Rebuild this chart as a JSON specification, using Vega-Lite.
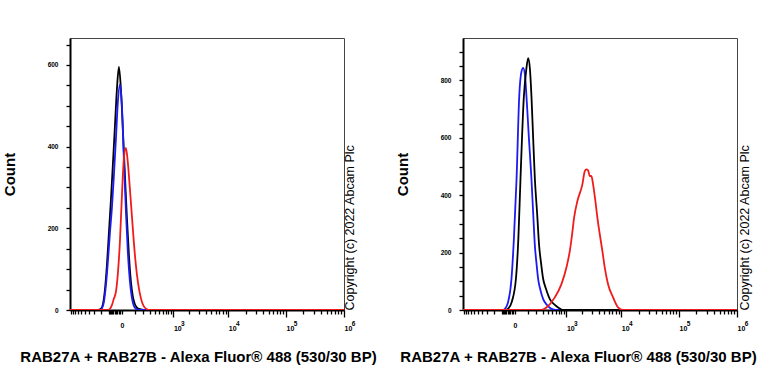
{
  "$schema": "https://vega.github.io/schema/vega-lite/v6.json",
  "background": "white",
  "padding": {"left": 1, "top": 37, "right": 0, "bottom": 0},
  "bounds": "flush",
  "spacing": 119,
  "config": {
    "font": "Liberation Sans",
    "view": {"stroke": "#444444", "strokeWidth": 1},
    "axis": {
      "grid": false,
      "domainColor": "#000000",
      "domainWidth": 2,
      "tickColor": "#000000",
      "tickWidth": 1.3,
      "labelColor": "#000000",
      "labelFont": "Liberation Sans",
      "labelFontWeight": "bold",
      "labelFlush": false,
      "labelOverlap": false,
      "titleColor": "#000000",
      "titleFont": "Liberation Sans",
      "titleFontWeight": "bold"
    }
  },
  "datasets": {
    "left": [
      {"s": "black", "x": -1025, "y": 0}, {"s": "black", "x": -238, "y": 0}, {"s": "black", "x": -194, "y": 3}, {"s": "black", "x": -168, "y": 15}, {"s": "black", "x": -144, "y": 50}, {"s": "black", "x": -122, "y": 110}, {"s": "black", "x": -101, "y": 190}, {"s": "black", "x": -82, "y": 270}, {"s": "black", "x": -64, "y": 360}, {"s": "black", "x": -48, "y": 450}, {"s": "black", "x": -33, "y": 540}, {"s": "black", "x": -19, "y": 595}, {"s": "black", "x": -6, "y": 540}, {"s": "black", "x": 6, "y": 440}, {"s": "black", "x": 19, "y": 330}, {"s": "black", "x": 33, "y": 225}, {"s": "black", "x": 48, "y": 135}, {"s": "black", "x": 64, "y": 70}, {"s": "black", "x": 82, "y": 32}, {"s": "black", "x": 101, "y": 14}, {"s": "black", "x": 122, "y": 6}, {"s": "black", "x": 156, "y": 2}, {"s": "black", "x": 208, "y": 0}, {"s": "black", "x": 1000000, "y": 0},
      {"s": "blue", "x": -1025, "y": 0}, {"s": "blue", "x": -208, "y": 0}, {"s": "blue", "x": -181, "y": 4}, {"s": "blue", "x": -156, "y": 20}, {"s": "blue", "x": -133, "y": 60}, {"s": "blue", "x": -111, "y": 120}, {"s": "blue", "x": -91, "y": 190}, {"s": "blue", "x": -73, "y": 250}, {"s": "blue", "x": -56, "y": 330}, {"s": "blue", "x": -40, "y": 420}, {"s": "blue", "x": -26, "y": 510}, {"s": "blue", "x": -12, "y": 552}, {"s": "blue", "x": 0, "y": 500}, {"s": "blue", "x": 12, "y": 370}, {"s": "blue", "x": 26, "y": 240}, {"s": "blue", "x": 40, "y": 140}, {"s": "blue", "x": 56, "y": 70}, {"s": "blue", "x": 73, "y": 30}, {"s": "blue", "x": 91, "y": 10}, {"s": "blue", "x": 111, "y": 3}, {"s": "blue", "x": 144, "y": 0}, {"s": "blue", "x": 1000000, "y": 0},
      {"s": "red", "x": -1025, "y": 0}, {"s": "red", "x": -111, "y": 0}, {"s": "red", "x": -91, "y": 3}, {"s": "red", "x": -73, "y": 12}, {"s": "red", "x": -56, "y": 28}, {"s": "red", "x": -40, "y": 45}, {"s": "red", "x": -26, "y": 90}, {"s": "red", "x": -12, "y": 170}, {"s": "red", "x": 0, "y": 280}, {"s": "red", "x": 12, "y": 370}, {"s": "red", "x": 26, "y": 397}, {"s": "red", "x": 40, "y": 360}, {"s": "red", "x": 56, "y": 296}, {"s": "red", "x": 73, "y": 230}, {"s": "red", "x": 91, "y": 165}, {"s": "red", "x": 111, "y": 110}, {"s": "red", "x": 133, "y": 68}, {"s": "red", "x": 156, "y": 40}, {"s": "red", "x": 181, "y": 20}, {"s": "red", "x": 208, "y": 9}, {"s": "red", "x": 253, "y": 2}, {"s": "red", "x": 304, "y": 0}, {"s": "red", "x": 1000000, "y": 0}
    ],
    "right": [
      {"s": "blue", "x": -1025, "y": 0}, {"s": "blue", "x": -91, "y": 0}, {"s": "blue", "x": -73, "y": 4}, {"s": "blue", "x": -48, "y": 25}, {"s": "blue", "x": -22, "y": 108}, {"s": "blue", "x": -6, "y": 250}, {"s": "blue", "x": 10, "y": 456}, {"s": "blue", "x": 28, "y": 745}, {"s": "blue", "x": 44, "y": 830}, {"s": "blue", "x": 58, "y": 844}, {"s": "blue", "x": 73, "y": 820}, {"s": "blue", "x": 87, "y": 745}, {"s": "blue", "x": 111, "y": 600}, {"s": "blue", "x": 139, "y": 456}, {"s": "blue", "x": 159, "y": 340}, {"s": "blue", "x": 181, "y": 224}, {"s": "blue", "x": 204, "y": 160}, {"s": "blue", "x": 227, "y": 108}, {"s": "blue", "x": 262, "y": 70}, {"s": "blue", "x": 310, "y": 38}, {"s": "blue", "x": 382, "y": 18}, {"s": "blue", "x": 449, "y": 8}, {"s": "blue", "x": 533, "y": 2}, {"s": "blue", "x": 641, "y": 0}, {"s": "blue", "x": 1000000, "y": 0},
      {"s": "black", "x": -1025, "y": 0}, {"s": "black", "x": -64, "y": 0}, {"s": "black", "x": -46, "y": 5}, {"s": "black", "x": -19, "y": 30}, {"s": "black", "x": 6, "y": 108}, {"s": "black", "x": 22, "y": 250}, {"s": "black", "x": 37, "y": 456}, {"s": "black", "x": 64, "y": 745}, {"s": "black", "x": 86, "y": 840}, {"s": "black", "x": 104, "y": 878}, {"s": "black", "x": 122, "y": 840}, {"s": "black", "x": 139, "y": 745}, {"s": "black", "x": 159, "y": 600}, {"s": "black", "x": 181, "y": 456}, {"s": "black", "x": 211, "y": 340}, {"s": "black", "x": 242, "y": 224}, {"s": "black", "x": 275, "y": 160}, {"s": "black", "x": 310, "y": 108}, {"s": "black", "x": 362, "y": 75}, {"s": "black", "x": 449, "y": 38}, {"s": "black", "x": 580, "y": 18}, {"s": "black", "x": 706, "y": 7}, {"s": "black", "x": 853, "y": 0}, {"s": "black", "x": 1000000, "y": 0},
      {"s": "red", "x": -1025, "y": 0}, {"s": "red", "x": 280, "y": 0}, {"s": "red", "x": 374, "y": 9}, {"s": "red", "x": 580, "y": 44}, {"s": "red", "x": 799, "y": 90}, {"s": "red", "x": 1006, "y": 148}, {"s": "red", "x": 1173, "y": 206}, {"s": "red", "x": 1299, "y": 264}, {"s": "red", "x": 1418, "y": 322}, {"s": "red", "x": 1637, "y": 380}, {"s": "red", "x": 2028, "y": 438}, {"s": "red", "x": 2245, "y": 484}, {"s": "red", "x": 2401, "y": 490}, {"s": "red", "x": 2580, "y": 487}, {"s": "red", "x": 2769, "y": 467}, {"s": "red", "x": 2959, "y": 467}, {"s": "red", "x": 3176, "y": 438}, {"s": "red", "x": 3493, "y": 380}, {"s": "red", "x": 3792, "y": 322}, {"s": "red", "x": 4187, "y": 264}, {"s": "red", "x": 4656, "y": 206}, {"s": "red", "x": 5136, "y": 148}, {"s": "red", "x": 5871, "y": 90}, {"s": "red", "x": 7190, "y": 44}, {"s": "red", "x": 8796, "y": 9}, {"s": "red", "x": 10750, "y": 0}, {"s": "red", "x": 1000000, "y": 0}
    ]
  },
  "hconcat": [
    {
      "width": 274,
      "height": 272,
      "data": {"name": "left"},
      "layer": [
        {
          "mark": {"type": "line", "strokeWidth": 1.8, "interpolate": "monotone", "clip": true},
          "encoding": {
            "x": {
              "field": "x", "type": "quantitative",
              "scale": {"type": "symlog", "constant": 150, "domain": [-1025, 1000000], "nice": false, "zero": false},
              "axis": {
                "values": [-1000, -900, -800, -700, -600, -500, -400, -300, -200, -100, -90, -80, -70, -60, -50, -40, -30, -20, -10, 0, 100, 200, 300, 400, 500, 600, 700, 800, 900, 1000, 2000, 3000, 4000, 5000, 6000, 7000, 8000, 9000, 10000, 20000, 30000, 40000, 50000, 60000, 70000, 80000, 90000, 100000, 200000, 300000, 400000, 500000, 600000, 700000, 800000, 900000, 1000000],
                "labelExpr": "datum.value == 0 ? '0' : indexof([1000, 10000, 100000, 1000000], datum.value) >= 0 ? '10' : ''",
                "tickSize": {"condition": {"test": "indexof([1000, 10000, 100000, 1000000], datum.value) >= 0", "value": 7}, "value": 4},
                "labelFontSize": 7,
                "labelPadding": 7,
                "labelOffset": {"condition": {"test": "datum.value > 0", "value": 4}, "value": 0},
                "title": "RAB27A + RAB27B - Alexa Fluor® 488 (530/30 BP)",
                "titleFontSize": 15,
                "titlePadding": 18,
                "titleX": 128
              }
            },
            "y": {
              "field": "y", "type": "quantitative",
              "scale": {"domain": [0, 666], "nice": false},
              "axis": {
                "values": [0, 50, 100, 150, 200, 250, 300, 350, 400, 450, 500, 550, 600, 650],
                "format": "d",
                "labelExpr": "datum.value % 200 == 0 ? datum.label : ''",
                "tickSize": 4,
                "labelFontSize": 6.5,
                "labelPadding": 8,
                "title": "Count",
                "titleFontSize": 15,
                "titlePadding": 30
              }
            },
            "color": {"field": "s", "type": "nominal", "scale": {"domain": ["blue", "black", "red"], "range": ["#1c1cf0", "#000000", "#f01c1c"]}, "legend": null}
          }
        },
        {
          "mark": {"type": "rule", "opacity": 0},
          "encoding": {
            "x": {
              "field": "x", "type": "quantitative",
              "scale": {"type": "symlog", "constant": 150, "domain": [-1025, 1000000], "nice": false, "zero": false},
              "axis": {"orient": "bottom", "values": [1000, 10000, 100000, 1000000], "labelExpr": "datum.value == 1000 ? '3' : datum.value == 10000 ? '4' : datum.value == 100000 ? '5' : '6'", "ticks": false, "domain": false, "labelFontSize": 6.5, "labelPadding": 10, "labelOffset": 9, "title": null}
            },
            "y": {
              "field": "y", "type": "quantitative",
              "scale": {"domain": [0, 666], "nice": false},
              "axis": {"orient": "right", "labels": false, "ticks": false, "domain": false, "title": "Copyright (c) 2022 Abcam Plc", "titleAngle": 270, "titleAnchor": "start", "titleAlign": "left", "titleFontWeight": "normal", "titleFontSize": 12.5, "titlePadding": 12}
            }
          }
        }
      ],
      "resolve": {"scale": {"y": "independent"}, "axis": {"x": "independent", "y": "independent"}}
    },
    {
      "width": 274,
      "height": 272,
      "data": {"name": "right"},
      "layer": [
        {
          "mark": {"type": "line", "strokeWidth": 1.8, "interpolate": "monotone", "clip": true},
          "encoding": {
            "x": {
              "field": "x", "type": "quantitative",
              "scale": {"type": "symlog", "constant": 150, "domain": [-1025, 1000000], "nice": false, "zero": false},
              "axis": {
                "values": [-1000, -900, -800, -700, -600, -500, -400, -300, -200, -100, -90, -80, -70, -60, -50, -40, -30, -20, -10, 0, 100, 200, 300, 400, 500, 600, 700, 800, 900, 1000, 2000, 3000, 4000, 5000, 6000, 7000, 8000, 9000, 10000, 20000, 30000, 40000, 50000, 60000, 70000, 80000, 90000, 100000, 200000, 300000, 400000, 500000, 600000, 700000, 800000, 900000, 1000000],
                "labelExpr": "datum.value == 0 ? '0' : indexof([1000, 10000, 100000, 1000000], datum.value) >= 0 ? '10' : ''",
                "tickSize": {"condition": {"test": "indexof([1000, 10000, 100000, 1000000], datum.value) >= 0", "value": 7}, "value": 4},
                "labelFontSize": 7,
                "labelPadding": 7,
                "labelOffset": {"condition": {"test": "datum.value > 0", "value": 4}, "value": 0},
                "title": "RAB27A + RAB27B - Alexa Fluor® 488 (530/30 BP)",
                "titleFontSize": 15,
                "titlePadding": 18,
                "titleX": 115
              }
            },
            "y": {
              "field": "y", "type": "quantitative",
              "scale": {"domain": [0, 948], "nice": false},
              "axis": {
                "values": [0, 50, 100, 150, 200, 250, 300, 350, 400, 450, 500, 550, 600, 650, 700, 750, 800, 850, 900],
                "format": "d",
                "labelExpr": "datum.value % 200 == 0 ? datum.label : ''",
                "tickSize": 4,
                "labelFontSize": 6.5,
                "labelPadding": 8,
                "title": "Count",
                "titleFontSize": 15,
                "titlePadding": 30
              }
            },
            "color": {"field": "s", "type": "nominal", "scale": {"domain": ["blue", "black", "red"], "range": ["#1c1cf0", "#000000", "#f01c1c"]}, "legend": null}
          }
        },
        {
          "mark": {"type": "rule", "opacity": 0},
          "encoding": {
            "x": {
              "field": "x", "type": "quantitative",
              "scale": {"type": "symlog", "constant": 150, "domain": [-1025, 1000000], "nice": false, "zero": false},
              "axis": {"orient": "bottom", "values": [1000, 10000, 100000, 1000000], "labelExpr": "datum.value == 1000 ? '3' : datum.value == 10000 ? '4' : datum.value == 100000 ? '5' : '6'", "ticks": false, "domain": false, "labelFontSize": 6.5, "labelPadding": 10, "labelOffset": 9, "title": null}
            },
            "y": {
              "field": "y", "type": "quantitative",
              "scale": {"domain": [0, 948], "nice": false},
              "axis": {"orient": "right", "labels": false, "ticks": false, "domain": false, "title": "Copyright (c) 2022 Abcam Plc", "titleAngle": 270, "titleAnchor": "start", "titleAlign": "left", "titleFontWeight": "normal", "titleFontSize": 12.5, "titlePadding": 14}
            }
          }
        }
      ],
      "resolve": {"scale": {"y": "independent"}, "axis": {"x": "independent", "y": "independent"}}
    }
  ]
}
